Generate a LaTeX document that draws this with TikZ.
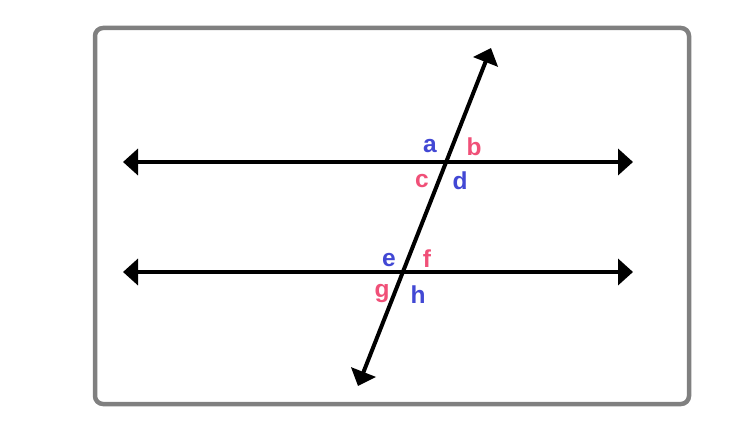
\documentclass[tikz,border=0pt]{standalone}
\usepackage{fontspec}
\setmainfont{Liberation Sans}
\usepackage{tikz}
\usetikzlibrary{arrows.meta}
\definecolor{angblue}{RGB}{66,72,212}
\definecolor{angpink}{RGB}{240,80,120}
\definecolor{framegray}{RGB}{128,128,128}

\begin{document}
\begin{tikzpicture}[x=1pt,y=-1pt,
  ray/.style={line width=4pt,{Triangle[length=15pt,width=26pt]}-{Triangle[length=15pt,width=26pt]}},
  lbl/.style={anchor=base,inner sep=0pt,font=\fontsize{24.5}{24.5}\selectfont\bfseries},
  ablue/.style={lbl,text=angblue},
  apink/.style={lbl,text=angpink}]
\useasboundingbox (0,0) rectangle (750,422);
\draw[framegray,line width=4.5pt,rounded corners=8pt] (95,28) rectangle (689,404);
% parallel lines
\coordinate (l1w) at (123,162);
\coordinate (l1e) at (633,162);
\coordinate (l2w) at (123,272);
\coordinate (l2e) at (633,272);
\draw[ray] (l1w) -- (l1e);
\draw[ray] (l2w) -- (l2e);
% transversal
\coordinate (tn) at (491,48);
\coordinate (ts) at (358,386);
\draw[ray] (ts) -- (tn);
% angle names
\node[ablue] (a) at (430,153) {a};
\node[apink] (b) at (474,156) {b};
\node[apink] (c) at (422,188) {c};
\node[ablue] (d) at (460,190) {d};
\node[ablue] (e) at (389,267) {e};
\node[apink] (f) at (427,268) {f};
\node[apink] (g) at (382,298) {g};
\node[ablue] (h) at (418,304) {h};
\end{tikzpicture}
\end{document}
